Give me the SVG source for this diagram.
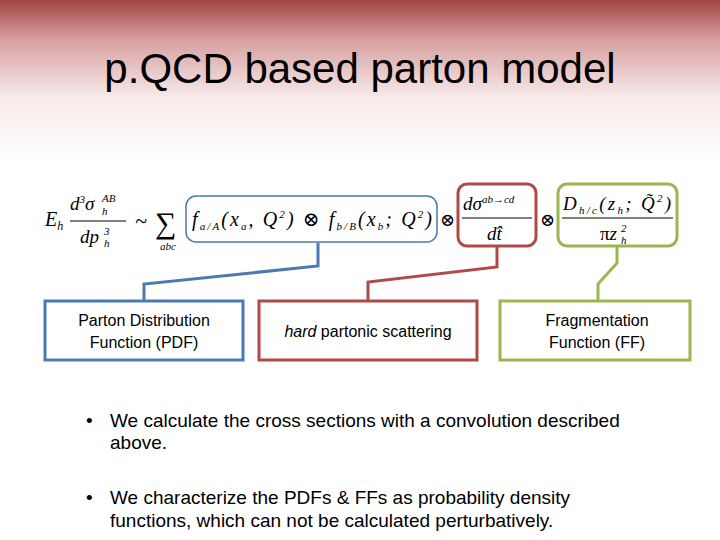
<svg xmlns="http://www.w3.org/2000/svg" width="720" height="540" viewBox="0 0 720 540">
<defs>
<linearGradient id="hg" x1="0" y1="0" x2="0" y2="1">
<stop offset="0" stop-color="#a24444"/>
<stop offset="0.25" stop-color="#d7a0a0"/>
<stop offset="0.6" stop-color="#f6e8e8"/>
<stop offset="1" stop-color="#ffffff"/>
</linearGradient>
<style>
.t{font-family:"Liberation Sans",Arial,sans-serif;fill:#000}
.m{font-family:"Liberation Serif","DejaVu Serif",serif;font-style:italic;fill:#000}
.c{fill:none;stroke-width:3}
</style>
</defs>
<rect width="720" height="540" fill="#fff"/>
<rect width="720" height="160" fill="url(#hg)"/>
<text class="t" x="360" y="83" font-size="42" text-anchor="middle">p.QCD based parton model</text>

<g id="formula">
<text class="m" x="45" y="226" font-size="20">E<tspan font-size="12" dy="4">h</tspan></text>
<text class="m" x="70" y="210" font-size="19">d<tspan font-size="11" dy="-7">3</tspan><tspan dy="7">σ</tspan></text>
<text class="m" x="102" y="202" font-size="11">AB</text>
<text class="m" x="102" y="215" font-size="11">h</text>
<line x1="70" y1="221" x2="126" y2="221" stroke="#000" stroke-width="1"/>
<text class="m" x="80" y="243" font-size="19">dp</text>
<text class="m" x="104" y="235" font-size="11">3</text>
<text class="m" x="104" y="247" font-size="11">h</text>
<text class="m" x="135" y="228" font-size="22" font-style="normal">~</text>
<text class="m" x="155" y="233" font-size="30" font-style="normal">∑</text>
<text class="m" x="160" y="250" font-size="11">abc</text>
</g>

<g id="pdf-term">
<rect x="186" y="196" width="251" height="46" rx="10" fill="none" stroke="#4a7ab0" stroke-width="1.5"/>
<text class="m" x="192" y="226" font-size="20" textLength="240" lengthAdjust="spacing">f<tspan font-size="11" dy="4">a/A</tspan><tspan dy="-4">(x</tspan><tspan font-size="11" dy="4">a</tspan><tspan dy="-4">, Q</tspan><tspan font-size="11" dy="-8">2</tspan><tspan dy="8">) </tspan><tspan font-style="normal">⊗ </tspan><tspan>f</tspan><tspan font-size="11" dy="4">b/B</tspan><tspan dy="-4">(x</tspan><tspan font-size="11" dy="4">b</tspan><tspan dy="-4">; Q</tspan><tspan font-size="11" dy="-8">2</tspan><tspan dy="8">)</tspan></text>
<text class="m" x="440" y="226" font-size="18" font-style="normal">⊗</text>
</g>

<g id="hard-term">
<rect x="458" y="184" width="78" height="62" rx="9" fill="none" stroke="#b04a4a" stroke-width="3"/>
<text class="m" x="463" y="210" font-size="19">dσ<tspan font-size="11" dy="-7">ab→cd</tspan></text>
<line x1="462" y1="218" x2="532" y2="218" stroke="#000" stroke-width="1"/>
<text class="m" x="487" y="240" font-size="19">dt̂</text>
<text class="m" x="540" y="226" font-size="18" font-style="normal">⊗</text>
</g>

<g id="ff-term">
<rect x="558" y="184" width="119" height="62" rx="9" fill="none" stroke="#9ab552" stroke-width="3"/>
<text class="m" x="563" y="210" font-size="19" textLength="108" lengthAdjust="spacing">D<tspan font-size="11" dy="4">h/c</tspan><tspan dy="-4">(z</tspan><tspan font-size="11" dy="4">h</tspan><tspan dy="-4">; Q̃</tspan><tspan font-size="11" dy="-8">2</tspan><tspan dy="8">)</tspan></text>
<line x1="562" y1="218" x2="673" y2="218" stroke="#000" stroke-width="1"/>
<text class="m" x="600" y="240" font-size="19"><tspan font-style="normal">π</tspan>z</text>
<text class="m" x="621" y="232" font-size="11">2</text>
<text class="m" x="621" y="244" font-size="11">h</text>
</g>

<g id="connectors">
<polyline class="c" stroke="#4a7ab0" points="318,243 318,266 144,284 144,301"/>
<polyline class="c" stroke="#b04a4a" points="497,247 497,267 368,282 368,301"/>
<polyline class="c" stroke="#9ab552" points="617,247 617,263 598,284 598,301"/>
</g>

<g id="pdf-box">
<rect x="45" y="301" width="198" height="59" fill="#fff" stroke="#4a7ab0" stroke-width="3"/>
<text class="t" x="144" y="326" font-size="16" text-anchor="middle">Parton Distribution</text>
<text class="t" x="144" y="348" font-size="16" text-anchor="middle">Function (PDF)</text>
</g>
<g id="hard-box">
<rect x="259" y="301" width="218" height="59" fill="#fff" stroke="#b04a4a" stroke-width="3"/>
<text class="t" x="368" y="337" font-size="16" text-anchor="middle"><tspan font-style="italic">hard</tspan> partonic scattering</text>
</g>
<g id="ff-box">
<rect x="500" y="301" width="190" height="59" fill="#fff" stroke="#9ab552" stroke-width="3"/>
<text class="t" x="597" y="326" font-size="16" text-anchor="middle">Fragmentation</text>
<text class="t" x="597" y="348" font-size="16" text-anchor="middle">Function (FF)</text>
</g>

<g id="bullets">
<text class="t" x="86" y="427" font-size="19">•</text>
<text class="t" x="110" y="427" font-size="19">We calculate the cross sections with a convolution described</text>
<text class="t" x="110" y="449" font-size="19">above.</text>
<text class="t" x="86" y="504" font-size="19">•</text>
<text class="t" x="110" y="504" font-size="19">We characterize the PDFs &amp; FFs as probability density</text>
<text class="t" x="110" y="527" font-size="19">functions, which can not be calculated perturbatively.</text>
</g>
</svg>
